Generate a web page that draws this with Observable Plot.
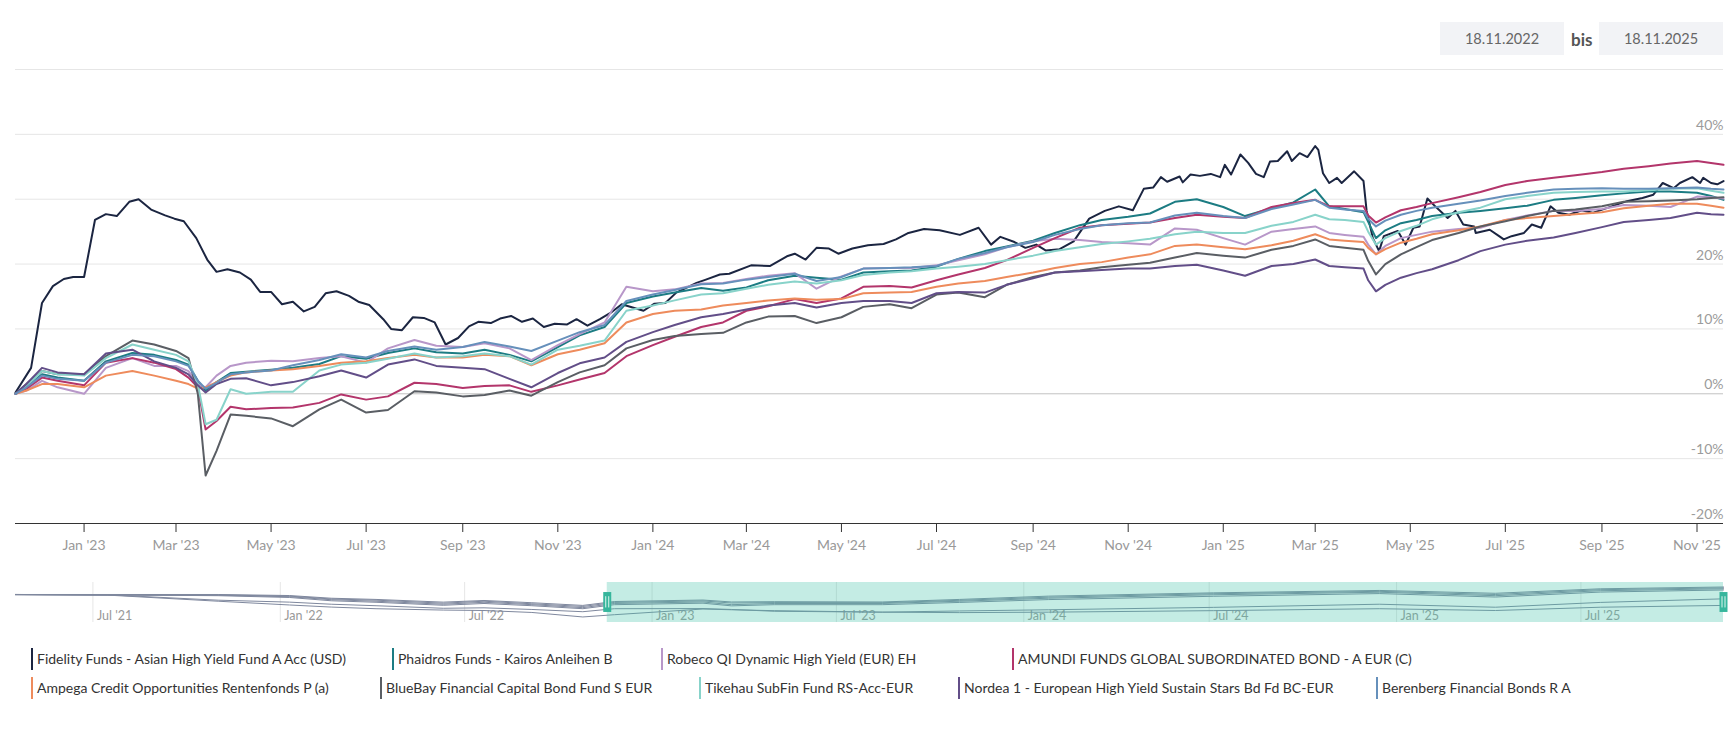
<!DOCTYPE html>
<html><head><meta charset="utf-8">
<script src="https://cdn.jsdelivr.net/npm/d3@7"></script>
<script src="https://cdn.jsdelivr.net/npm/@observablehq/plot@0.6"></script>
<style>
body{margin:0;background:#fff;font-family:Lato,"Open Sans",sans-serif;}
#wrap{position:relative;width:1733px;height:748px;overflow:hidden;background:#fff;}
.datebox{position:absolute;top:22px;width:124px;height:33px;line-height:33px;background:#f2f3f6;color:#666;font-size:14.5px;text-align:center;}
#bis{position:absolute;left:1571px;top:29px;font-size:17px;font-weight:700;color:#555;}
#main{position:absolute;left:0;top:0;}
#nav{position:absolute;left:0;top:578px;}
.lg{position:absolute;font-size:14px;color:#333;white-space:nowrap;line-height:22px;padding-left:6px;}
.lg i{position:absolute;left:0;top:0;width:2px;height:22px;}
</style></head><body>
<div id="wrap">
  <div class="datebox" style="left:1440px">18.11.2022</div>
  <div id="bis">bis</div>
  <div class="datebox" style="left:1599px">18.11.2025</div>
  <div id="main"></div>
  <div id="nav"></div>
</div>
<script>
// ---------- data ----------
const seriesNames = [
  "Fidelity Funds - Asian High Yield Fund A Acc (USD)",
  "Phaidros Funds - Kairos Anleihen B",
  "Robeco QI Dynamic High Yield (EUR) EH",
  "AMUNDI FUNDS GLOBAL SUBORDINATED BOND - A EUR (C)",
  "Ampega Credit Opportunities Rentenfonds P (a)",
  "BlueBay Financial Capital Bond Fund S EUR",
  "Tikehau SubFin Fund RS-Acc-EUR",
  "Nordea 1 - European High Yield Sustain Stars Bd Fd BC-EUR",
  "Berenberg Financial Bonds R A"
];

const fidelityDates = ["2022-11-18","2022-11-28","2022-12-05","2022-12-12","2022-12-19","2022-12-25","2023-01-01","2023-01-08","2023-01-15","2023-01-22","2023-01-30","2023-02-05","2023-02-13","2023-02-22","2023-02-28","2023-03-06","2023-03-14","2023-03-21","2023-03-27","2023-04-03","2023-04-11","2023-04-18","2023-04-24","2023-05-01","2023-05-08","2023-05-15","2023-05-22","2023-05-29","2023-06-05","2023-06-12","2023-06-20","2023-06-26","2023-07-03","2023-07-12","2023-07-17","2023-07-24","2023-07-31","2023-08-07","2023-08-14","2023-08-21","2023-08-29","2023-09-05","2023-09-11","2023-09-19","2023-09-25","2023-10-02","2023-10-09","2023-10-16","2023-10-23","2023-10-30","2023-11-07","2023-11-13","2023-11-20","2023-11-28","2023-12-05","2023-12-12","2023-12-19","2023-12-26","2024-01-02","2024-01-09","2024-01-16","2024-01-29","2024-02-04","2024-02-13","2024-02-19","2024-03-04","2024-03-16","2024-03-27","2024-04-01","2024-04-08","2024-04-15","2024-04-23","2024-04-29","2024-05-08","2024-05-18","2024-05-28","2024-06-05","2024-06-13","2024-06-23","2024-07-03","2024-07-16","2024-07-28","2024-08-05","2024-08-11","2024-08-20","2024-08-27","2024-09-03","2024-09-09","2024-09-18","2024-09-27","2024-10-07","2024-10-17","2024-10-26","2024-11-04","2024-11-11","2024-11-17","2024-11-22","2024-11-26","2024-12-04","2024-12-06","2024-12-11","2024-12-17","2024-12-24","2024-12-30","2025-01-02","2025-01-06","2025-01-12","2025-01-17","2025-01-22","2025-01-27","2025-01-31","2025-02-05","2025-02-11","2025-02-14","2025-02-19","2025-02-24","2025-03-01","2025-03-03","2025-03-06","2025-03-10","2025-03-15","2025-03-18","2025-03-26","2025-04-01","2025-04-03","2025-04-07","2025-04-11","2025-04-14","2025-04-23","2025-04-28","2025-05-03","2025-05-07","2025-05-12","2025-05-17","2025-05-25","2025-05-30","2025-06-04","2025-06-11","2025-06-12","2025-06-21","2025-06-27","2025-06-30","2025-07-05","2025-07-13","2025-07-18","2025-07-24","2025-07-30","2025-08-04","2025-08-11","2025-08-19","2025-08-26","2025-09-05","2025-09-17","2025-09-27","2025-10-04","2025-10-10","2025-10-17","2025-10-21","2025-10-29","2025-11-03","2025-11-05","2025-11-10","2025-11-14","2025-11-18"];
const fidelityValues = [0.2,4.0,14.0,16.6,17.7,18.0,18.0,26.8,27.7,27.4,29.6,30.0,28.4,27.5,27.0,26.6,24.0,20.7,18.8,19.2,18.7,17.6,15.7,15.7,13.8,14.2,12.7,13.4,15.5,15.8,15.1,14.2,13.7,11.5,10.0,9.8,11.8,11.7,11.0,7.6,8.6,10.4,11.1,10.9,11.6,12.0,11.1,11.6,10.3,10.8,10.7,11.5,10.5,11.5,12.5,13.8,13.3,12.8,13.9,14.0,15.6,17.1,17.6,18.4,18.5,19.8,19.7,21.2,21.6,20.7,22.5,22.4,21.6,22.4,22.9,23.1,23.8,24.8,25.4,25.2,24.5,25.6,23.0,24.2,23.4,22.5,23.0,22.1,22.3,23.5,27.0,28.2,28.9,28.3,31.6,31.8,33.4,32.7,33.5,32.6,33.8,33.6,33.9,33.4,35.3,33.8,36.9,35.6,33.9,33.4,35.8,35.9,37.4,35.9,37.1,36.5,38.2,37.6,34.0,32.5,33.3,32.5,34.3,32.8,28.2,24.0,22.0,24.3,25.1,23.0,25.6,25.8,30.1,28.9,27.1,28.2,26.1,25.8,24.8,25.3,24.3,23.8,24.3,24.8,26.1,25.6,28.9,27.9,27.6,28.3,27.9,28.7,29.7,30.2,30.7,32.5,31.7,32.5,33.4,32.5,33.3,32.5,32.3,32.8];

const gridDates = ["2022-11-18","2022-11-25","2022-12-05","2022-12-15","2023-01-01","2023-01-15","2023-02-01","2023-02-15","2023-03-01","2023-03-09","2023-03-15","2023-03-20","2023-03-27","2023-04-05","2023-04-15","2023-05-01","2023-05-15","2023-06-01","2023-06-15","2023-07-01","2023-07-15","2023-08-01","2023-08-15","2023-09-01","2023-09-15","2023-10-01","2023-10-15","2023-11-01","2023-11-15","2023-12-01","2023-12-15","2024-01-01","2024-01-15","2024-02-01","2024-02-15","2024-03-01","2024-03-15","2024-04-01","2024-04-15","2024-05-01","2024-05-15","2024-06-01","2024-06-15","2024-07-01","2024-07-15","2024-08-01","2024-08-15","2024-09-01","2024-09-15","2024-10-01","2024-10-15","2024-11-01","2024-11-15","2024-12-01","2024-12-15","2025-01-01","2025-01-15","2025-02-01","2025-02-15","2025-03-01","2025-03-10","2025-03-20","2025-04-01","2025-04-04","2025-04-09","2025-04-15","2025-04-25","2025-05-05","2025-05-15","2025-06-01","2025-06-15","2025-07-01","2025-07-15","2025-08-01","2025-08-15","2025-09-01","2025-09-15","2025-10-01","2025-10-15","2025-11-01","2025-11-10","2025-11-18"];

const phaidros = [0,1.0,3.0,2.5,2.0,5.0,6.3,6.0,5.2,4.5,2.0,0.5,1.8,3.2,3.4,3.7,4.0,4.6,5.8,5.4,6.3,7.0,6.4,6.2,6.8,6.0,5.0,7.2,9.0,10.3,14.0,15.0,15.6,16.3,15.9,16.4,17.5,18.2,17.9,17.6,18.7,18.9,19.0,19.6,20.8,22.0,22.7,23.6,24.8,26.0,26.8,27.3,27.8,29.6,30.0,28.8,27.4,28.6,29.5,31.5,28.9,28.5,28.0,26.5,24.0,25.2,26.3,26.8,27.4,27.9,28.2,28.6,29.0,29.9,30.2,30.6,30.9,31.2,31.2,31.0,30.5,29.9];
const robeco = [0,0.5,2.0,1.0,0.0,4.0,5.5,4.3,4.3,3.5,1.5,1.0,2.8,4.3,4.8,5.1,5.0,5.5,5.8,4.8,7.0,8.3,7.4,7.2,7.8,7.0,5.2,7.5,9.2,11.0,16.5,15.8,16.1,17.0,17.1,17.7,18.2,18.6,16.2,18.1,19.3,19.4,19.4,19.8,20.6,21.5,22.6,23.5,23.9,23.7,23.4,23.2,23.0,25.5,25.3,24.0,23.0,25.0,25.4,25.8,24.8,24.5,24.2,23.0,21.5,22.8,24.0,24.5,25.0,25.4,25.6,26.8,27.5,28.2,28.2,28.5,29.1,29.0,28.8,30.4,30.3,30.1];
const amundi = [0,0.8,2.5,2.0,1.3,4.8,5.5,4.8,3.8,2.5,1.0,-5.5,-4.2,-2.0,-2.4,-2.2,-2.1,-1.4,-0.1,-0.9,-0.4,1.7,1.5,0.9,1.2,1.3,0.3,1.3,2.2,3.2,5.8,7.5,8.8,10.3,11.0,12.8,13.5,14.6,14.0,14.7,16.5,16.6,16.4,17.5,18.4,19.4,20.6,22.5,24.0,25.6,26.0,26.2,26.4,27.1,27.6,27.3,27.1,28.8,29.4,29.9,28.9,28.9,28.9,27.5,26.4,27.2,28.3,28.8,29.4,30.3,31.1,32.2,32.8,33.3,33.7,34.2,34.7,35.1,35.5,35.9,35.6,35.3];
const ampega = [0,0.5,1.5,1.5,1.0,2.8,3.5,2.8,2.0,1.5,0.8,1.0,1.8,2.8,3.3,3.6,3.8,4.3,4.8,5.0,5.5,6.0,5.6,5.6,6.0,5.8,4.4,6.1,6.8,7.8,11.0,12.3,12.8,13.0,13.6,14.0,14.4,14.7,14.5,14.6,15.5,15.6,15.7,16.5,17.0,17.4,18.0,18.7,19.4,20.0,20.3,21.0,21.5,22.8,23.0,22.6,22.3,22.9,23.6,24.6,23.8,23.6,23.4,22.5,21.5,22.3,23.3,23.9,24.6,25.2,25.8,26.8,27.1,27.4,27.7,28.0,28.6,29.0,29.3,29.3,29.0,28.7];
const bluebay = [0,1.5,3.5,3.0,3.0,5.8,8.2,7.6,6.6,5.5,0.0,-12.6,-8.8,-3.2,-3.4,-3.8,-5.0,-2.4,-0.9,-2.9,-2.5,0.4,0.2,-0.4,-0.2,0.5,-0.3,1.8,3.3,4.4,7.0,8.3,8.9,9.2,9.4,11.0,11.9,12.0,10.9,11.8,13.4,13.8,13.2,15.3,15.6,14.9,16.8,18.0,18.7,19.0,19.5,19.9,20.2,21.0,21.7,21.3,21.0,22.2,22.8,23.8,22.8,22.5,22.2,20.5,18.4,20.0,21.5,22.6,23.7,24.8,25.8,26.6,27.4,28.2,28.4,28.9,29.6,29.7,29.8,30.0,30.2,30.3];
const tikehau = [0,1.2,3.5,3.0,2.8,5.5,7.6,6.8,6.0,5.0,1.5,-4.7,-4.0,0.7,0.0,0.3,0.3,3.6,4.5,4.8,5.4,6.2,5.6,5.8,6.2,5.8,4.5,6.8,7.4,8.2,12.8,13.6,14.4,15.3,15.5,16.2,16.8,17.3,17.0,17.5,18.3,18.7,18.9,19.3,19.6,20.0,20.6,21.3,22.0,22.6,23.1,23.5,23.9,24.6,25.0,24.8,24.8,25.9,26.5,27.6,26.9,26.8,26.5,25.0,23.0,24.0,25.1,25.9,26.9,28.0,28.7,30.0,30.5,31.0,31.1,31.2,31.2,31.4,31.6,31.7,31.3,31.0];
const nordea = [0,1.5,4.0,3.3,3.0,6.2,6.8,5.0,4.0,3.0,1.3,0.2,1.5,2.3,2.4,1.3,1.8,2.7,3.6,2.5,4.5,5.3,4.3,4.0,3.8,2.3,1.0,3.2,4.7,5.6,8.0,9.5,10.6,11.8,12.3,13.0,13.6,14.0,13.3,14.0,14.3,14.3,14.0,15.5,15.7,15.6,16.8,17.8,18.7,18.9,19.1,19.3,19.3,19.7,19.9,19.0,18.2,19.7,20.0,20.7,19.7,19.5,19.3,17.5,15.8,16.8,17.9,18.6,19.2,20.6,22.0,23.0,23.6,24.1,24.8,25.7,26.5,26.8,27.1,27.9,27.7,27.6];
const berenberg = [0,1.0,2.8,2.3,2.0,4.8,6.0,5.8,5.0,4.3,2.0,0.8,1.7,3.0,3.3,3.6,4.4,5.2,6.1,5.6,6.6,7.3,6.8,7.2,8.0,7.3,6.6,8.2,9.5,10.6,14.3,15.3,16.0,16.9,17.0,17.6,18.0,18.5,17.4,18.0,19.3,19.4,19.5,19.7,20.8,21.7,22.6,23.4,24.5,25.4,26.0,26.3,26.4,27.5,27.9,27.4,27.1,28.5,29.2,29.9,28.7,28.4,28.2,27.0,25.8,26.7,27.6,28.2,28.7,29.3,29.8,30.5,31.0,31.5,31.6,31.7,31.6,31.6,31.7,31.8,31.6,31.5];

const gridSeries = [phaidros, robeco, amundi, ampega, bluebay, tikehau, nordea, berenberg];

const yGridValues = [-10, 10, 20, 30, 40, 50];
const yLabelValues = [-20, -10, 0, 10, 20, 40];
const xTickDates = ["2023-01-01","2023-03-01","2023-05-01","2023-07-01","2023-09-01","2023-11-01","2024-01-01","2024-03-01","2024-05-01","2024-07-01","2024-09-01","2024-11-01","2025-01-01","2025-03-01","2025-05-01","2025-07-01","2025-09-01","2025-11-01"];

// navigator (whole history, index values)
const navDates = ["2021-04-16","2021-07-15","2021-11-01","2022-01-10","2022-02-20","2022-04-05","2022-06-10","2022-07-20","2022-09-05","2022-10-25","2022-11-25","2023-02-20","2023-03-20","2023-05-01","2023-08-15","2023-10-30","2024-01-25","2024-07-05","2024-12-15","2025-04-08","2025-07-20","2025-11-18"];
const navA  = [100,100,100,99.3,97.5,96.7,94.9,96,94.5,92.7,95.3,96.3,95,95.2,95,96.7,98.9,101.1,102.7,100.8,103.8,105];
const navA2 = [99.8,99.6,99.5,98.5,96.5,95.5,93.5,94.8,93.2,91.2,94,95,93.2,94,94,95.5,97.5,99.8,101.5,99.2,102.5,103.8];
const navA3 = [100,99.8,99.7,98.9,97,96.2,94.2,95.5,93.8,92,94.7,95.7,94.3,94.6,94.5,96.1,98.2,100.5,102.1,100,103.2,104.4];
const navA4 = [99.9,99.7,99.2,98,95.8,94.8,92.8,94,92.5,90.5,93.2,94.2,92.4,93.2,93.2,94.7,96.6,98.8,100.6,98.3,101.6,103];
const navB  = [100,99.8,96.2,94.9,93.5,92.5,90.8,91.1,90.0,88.5,90.5,90.6,90.0,88.8,88.2,89.0,89.8,91.4,93.5,91.5,94.7,97.1];
const navC  = [100,99.6,95.5,93.0,91.6,90.5,89.6,89.3,88.0,85.0,86.5,90.3,89.8,89.2,88.2,87.9,88.2,89.2,90.5,89.3,91.5,92.7];
const navTickDates = ["2021-07-01","2022-01-01","2022-07-01","2023-01-01","2023-07-01","2024-01-01","2024-07-01","2025-01-01","2025-07-01"];
const rangeStart = "2022-11-18", rangeEnd = "2025-11-18";

// ---------- styles ----------
const seriesColors = ["#1b2541","#1c7c83","#b897c9","#b3356b","#ee8b5c","#5a5e64","#88d3ca","#624e88","#6690bb"];
const legendLayout = [[31,659],[392,659],[661,659],[1012,659],[31,688],[380,688],[699,688],[958,688],[1376,688]];

// ---------- build ----------
const D = s => new Date(s);
const lines = [];
lines.push(fidelityDates.map((d,i)=>({date:D(d), value:fidelityValues[i], k:0})));
gridSeries.forEach((arr,j)=>lines.push(gridDates.map((d,i)=>({date:D(d), value:arr[i], k:j+1}))));

const fmt = d3.utcFormat("%b '%y");

const main = Plot.plot({
  width: 1733, height: 560,
  marginTop: 69, marginBottom: 37, marginLeft: 15, marginRight: 10,
  x: {type: "utc", domain: [D("2022-11-18"), D("2025-11-18")]},
  y: {domain: [-20, 50], axis: null},
  style: {fontFamily: "Lato, sans-serif", fontSize: "14px", background: "transparent", overflow: "visible"},
  marks: [
    Plot.ruleY(yGridValues, {stroke: "#e6e6e6"}),
    Plot.ruleY([0], {stroke: "#c2c2c2"}),
    Plot.text(yLabelValues, {y: d => d, text: d => `${d}%`, frameAnchor: "right", textAnchor: "end", dy: -9, fill: "#9b9b9b", fontSize: 14}),
    ...lines.map(L => Plot.line(L, {x: "date", y: "value", stroke: seriesColors[L[0].k], strokeWidth: 2, curve: "linear"})),
    Plot.ruleY([-20], {stroke: "#333"}),
    Plot.axisX(xTickDates.map(D), {tickFormat: fmt, tickSize: 9, tickPadding: 8, stroke: "#333", fill: "#999", fontSize: 14, label: null})
  ]
});
document.getElementById("main").appendChild(main);

const navLines = [navA, navA3, navA2, navA4, navB, navC].map(arr => navDates.map((d,i)=>({date:D(d), value:arr[i]})));
const nav = Plot.plot({
  width: 1733, height: 48,
  marginTop: 4, marginBottom: 4, marginLeft: 15, marginRight: 10,
  x: {type: "utc", domain: [D("2021-04-16"), D("2025-11-18")], axis: null},
  y: {domain: [81.3, 108], axis: null},
  style: {fontFamily: "Lato, sans-serif", background: "transparent", overflow: "visible"},
  marks: [
    Plot.ruleX(navTickDates.map(D), {stroke: "#e6e6e6"}),
    Plot.text(navTickDates.map(D), {x: d => d, text: fmt, frameAnchor: "bottom", lineAnchor: "bottom", textAnchor: "start", dx: 4, dy: -3, fill: "#999", fontSize: 12.5}),
    ...navLines.map(L => Plot.line(L, {x: "date", y: "value", stroke: "#7f889e", strokeWidth: 1})),
    Plot.rect([{a: D(rangeStart), b: D(rangeEnd)}], {x1: "a", x2: "b", fill: "rgb(70,195,170)", fillOpacity: 0.32}),
    Plot.ruleX([D(rangeStart), D(rangeEnd)], {y1: 88, y2: 101.3, stroke: "#36b69c", strokeWidth: 8}),
    Plot.ruleX([D(rangeStart), D(rangeEnd)], {y1: 91, y2: 98.5, stroke: "#dff5ef", strokeWidth: 1, dx: -1.5}),
    Plot.ruleX([D(rangeStart), D(rangeEnd)], {y1: 91, y2: 98.5, stroke: "#dff5ef", strokeWidth: 1, dx: 1.5})
  ]
});
document.getElementById("nav").appendChild(nav);

const wrap = document.getElementById("wrap");
seriesNames.forEach((n,i) => {
  const el = document.createElement("div");
  el.className = "lg";
  el.style.left = legendLayout[i][0] + "px";
  el.style.top = (legendLayout[i][1] - 11) + "px";
  const m = document.createElement("i");
  m.style.background = seriesColors[i];
  el.appendChild(m);
  el.appendChild(document.createTextNode(n));
  wrap.appendChild(el);
});
</script>
</body></html>
